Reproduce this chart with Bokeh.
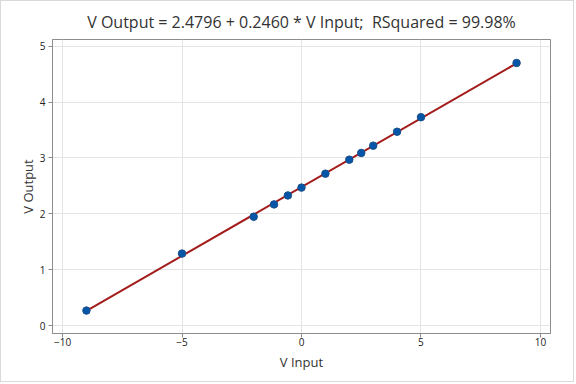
from bokeh.plotting import figure
from bokeh.models import Range1d, FixedTicker
from bokeh.embed import file_html
from bokeh.resources import INLINE

# Data
v_input = [-9, -5, -2, -1.15, -0.57, 0, 1, 2, 2.5, 3, 4, 5, 9]
v_output = [0.27, 1.29, 1.95, 2.17, 2.33, 2.47, 2.72, 2.97, 3.09, 3.22, 3.47, 3.73, 4.70]
intercept = 2.4796
slope = 0.2460
x_ticks = [-10, -5, 0, 5, 10]
y_ticks = [0, 1, 2, 3, 4, 5]
title_text = "V Output = 2.4796 + 0.2460 * V Input;\u00a0 RSquared = 99.98%"

FONT = "Open Sans"
TXT = "#333333"

p = figure(width=574, height=382, output_backend="svg", toolbar_location=None,
           x_range=Range1d(-10.42, 10.42), y_range=Range1d(-0.14, 5.12),
           min_border_left=51, min_border_right=25, min_border_top=37, min_border_bottom=50)
p.styles = {"border": "1px solid #d9d9d9"}

p.title.text = title_text
p.title.align = "center"
p.title.text_font = FONT
p.title.text_font_size = "16px"
p.title.text_font_style = "normal"
p.title.text_color = TXT
p.title.standoff = 14
p.title.offset = -25

p.outline_line_color = "#8c8c8c"
p.outline_line_width = 1

for ax in (p.xaxis, p.yaxis):
    ax.axis_line_color = "#8c8c8c"
    ax.major_tick_line_color = "#8c8c8c"
    ax.major_tick_out = 4
    ax.major_tick_in = 0
    ax.minor_tick_line_color = None
    ax.major_label_text_font = FONT
    ax.major_label_text_font_size = "10px"
    ax.major_label_text_color = "#222222"
    ax.axis_label_text_font = FONT
    ax.axis_label_text_font_size = "13px"
    ax.axis_label_text_font_style = "normal"
    ax.axis_label_text_color = TXT

p.xaxis.ticker = FixedTicker(ticks=x_ticks)
p.yaxis.ticker = FixedTicker(ticks=y_ticks)
p.xaxis.axis_label = "V Input"
p.yaxis.axis_label = "V Output"
p.xaxis.axis_label_standoff = 4
p.yaxis.axis_label_standoff = 0
p.xaxis.major_label_standoff = 0
p.yaxis.major_label_standoff = 3

p.xgrid.ticker = FixedTicker(ticks=x_ticks)
p.ygrid.ticker = FixedTicker(ticks=y_ticks)
p.grid.grid_line_color = "#e4e4e4"
p.grid.grid_line_width = 1

xmin, xmax = min(v_input), max(v_input)
p.line([xmin, xmax], [intercept + slope * xmin, intercept + slope * xmax],
       line_color="#a31b1b", line_width=2)
p.scatter(v_input, v_output, size=7.5, fill_color="#0556a8", line_color="#1c4f8a", line_width=1)

html = file_html(p, INLINE)
open("out.html", "w").write(html)
